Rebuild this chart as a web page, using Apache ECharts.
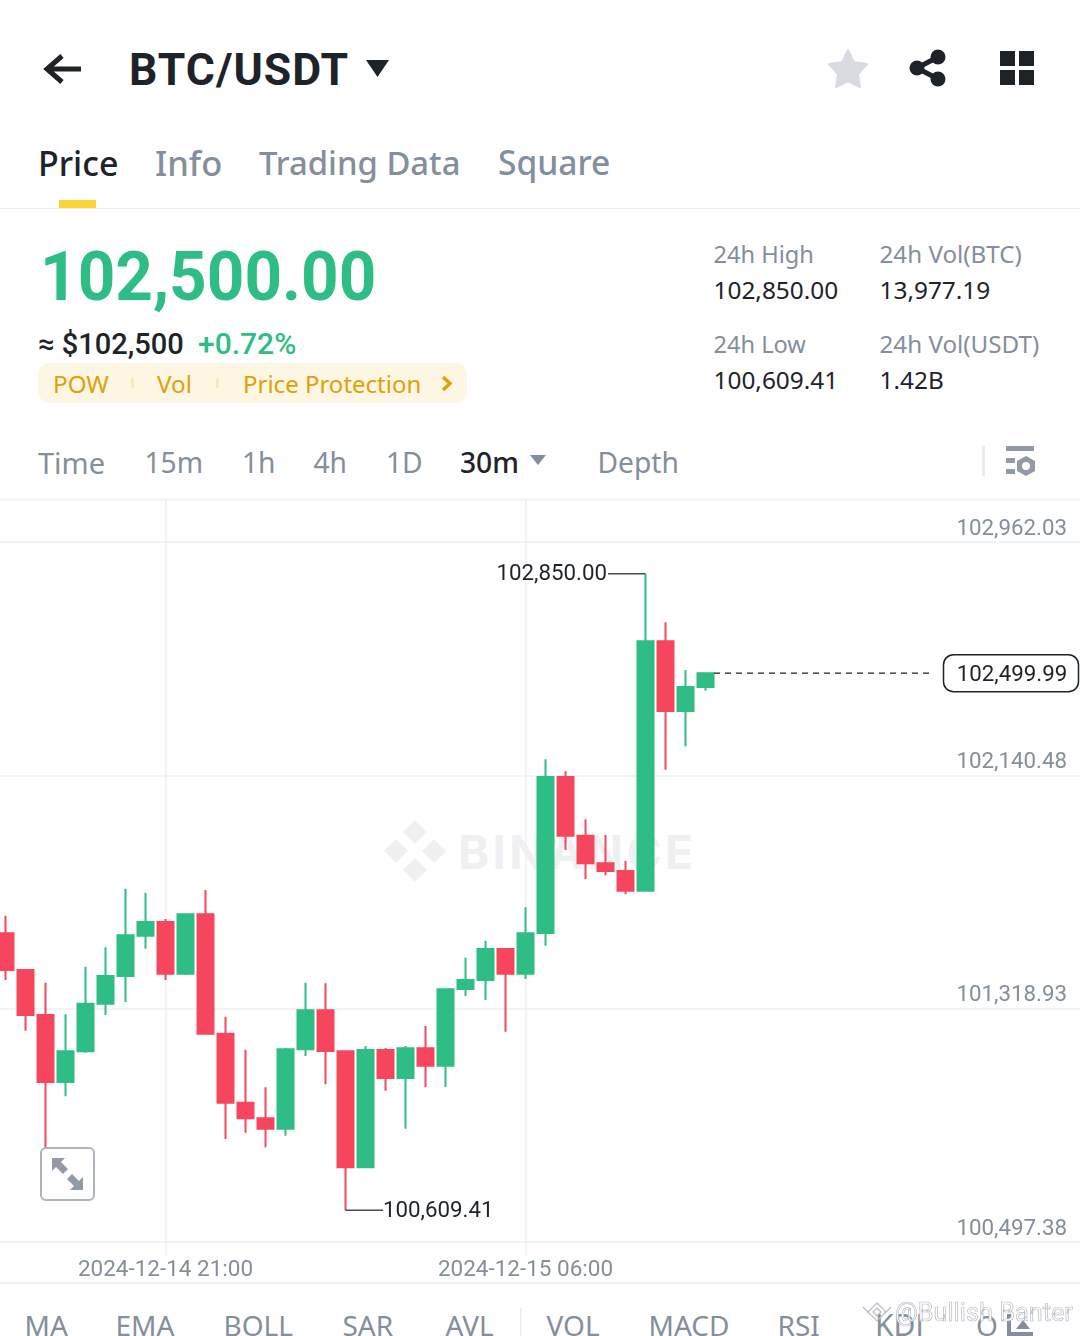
<!DOCTYPE html>
<html>
<head>
<meta charset="utf-8">
<script src="https://cdn.jsdelivr.net/npm/echarts@6/dist/echarts.min.js"></script>
<style>
html,body{margin:0;padding:0;background:#fff;overflow:hidden}
#page{position:relative;width:1080px;height:1336px;overflow:hidden;font-family:"Noto Sans",sans-serif;color:#1E2329}
#main{position:absolute;left:0;top:0;width:1080px;height:1336px;z-index:1}
.t{position:absolute;white-space:nowrap;line-height:1;transform:translateY(-50%)}
.g{color:#848E9C}
.y{color:#E0A106}
.s{font-size:24.2px}
.v{font-size:24.4px}
.m{font-size:28.2px}
.b{font-size:28px}
svg{position:absolute;left:0;top:0;overflow:visible}
#top{z-index:2}
</style>
</head>
<body>
<div id="page">
  <!-- back layer: page chrome and the faint logo -->
  <svg width="1080" height="1336">
    <path d="M46 69H81M62 56L47 69L62 82" fill="none" stroke="#1E2329" stroke-width="5"/>
    <path d="M366 60H389L377.5 77Z" fill="#1E2329"/>
    <path d="M848 50L854 62L867 64L858 74L860 87L848 81L836 87L838 74L829 64L842 62Z" fill="#D8DBE0" stroke="#D8DBE0" stroke-width="2" stroke-linejoin="round"/>
    <path d="M938 57L917 68L938 79" fill="none" stroke="#1E2329" stroke-width="5"/>
    <circle cx="917" cy="68" r="7.5" fill="#1E2329"/><circle cx="938" cy="57" r="7.5" fill="#1E2329"/><circle cx="938" cy="79" r="7.5" fill="#1E2329"/>
    <path d="M1000 51h15v15h-15zM1019 51h15v15h-15zM1000 70h15v15h-15zM1019 70h15v15h-15z" fill="#1E2329"/>
    <rect x="59" y="200" width="37" height="8" fill="#FCD535"/>
    <rect x="0" y="208" width="1080" height="1" fill="#EAECEF"/>
    <rect x="38" y="363" width="429" height="40" rx="12" fill="#FDF6E3"/>
    <rect x="131" y="378" width="3" height="10" fill="#F8E8BE"/>
    <rect x="216" y="378" width="3" height="10" fill="#F8E8BE"/>
    <path d="M443 377L450 383.5L443 390" fill="none" stroke="#E0A106" stroke-width="3.5"/>
    <path d="M530 455H546L538 465Z" fill="#848E9C"/>
    <rect x="982" y="446" width="3" height="30" fill="#EAECEF"/>
    <path d="M1006 446h28v5h-28zM1006 458h9v5h-9zM1006 469h9v5h-9z" fill="#929AA5"/>
    <path d="M1026 456L1035 461V471L1026 476L1017 471V461Z" fill="#929AA5"/>
    <circle cx="1026" cy="466" r="4" fill="#fff"/>
    <rect x="0" y="498" width="1080" height="3" fill="#F5F5F5"/>
    <rect x="0" y="1282" width="1080" height="2" fill="#EEF0F2"/>
    <rect x="520" y="1308" width="1.5" height="28" fill="#EAECEF"/>
    <path d="M1009 1314V1334H1033" fill="none" stroke="#848E9C" stroke-width="4"/>
    <path d="M1016 1329L1023 1320L1030 1329Z" fill="#848E9C"/>
    <g fill="#EEF0F2">
      <path d="M415 820L427 832L415 844L403 832Z"/>
      <path d="M415 858L427 870L415 882L403 870Z"/>
      <path d="M396 839L408 851L396 863L384 851Z"/>
      <path d="M434 839L446 851L434 863L422 851Z"/>
    </g>
    <path d="M415 844L422 851L415 858L408 851Z" fill="#fff"/>
  </svg>
  <div class="t" style="left:458px;top:851px;font:700 47px Inter,sans-serif;color:#EEF0F2;letter-spacing:3.5px">BINANCE</div>

  <div class="t" style="left:129px;top:70px;font-size:44.5px;font-weight:700;font-family:Roboto;letter-spacing:1px">BTC/USDT</div>
  <div class="t" style="left:38px;top:163px;font-size:34px;font-weight:500">Price</div>
  <div class="t g" style="left:155px;top:163px;font-size:34.5px;font-weight:500">Info</div>
  <div class="t g" style="left:259px;top:163px;font-size:32.8px;font-weight:500">Trading Data</div>
  <div class="t g" style="left:498px;top:163px;font-size:33.6px;font-weight:500">Square</div>

  <div class="t" style="left:40px;top:277px;font-size:68px;font-weight:700;font-family:Roboto;color:#2EBD85;transform:translateY(-50%) scaleX(.965);transform-origin:left center">102,500.00</div>
  <div class="t" style="left:38px;top:344px;font-size:29px;font-weight:500;font-family:Roboto">≈ $102,500</div>
  <div class="t" style="left:198px;top:344px;font-size:30px;font-weight:500;font-family:Roboto;color:#2EBD85">+0.72%</div>
  <div class="t y" style="left:53px;top:383.5px;font-size:24.2px">POW</div>
  <div class="t y" style="left:157px;top:383.5px;font-size:24.2px">Vol</div>
  <div class="t y" style="left:243px;top:383.5px;font-size:24px">Price Protection</div>

  <div class="t g s" style="left:713.5px;top:255px;font-size:23.6px">24h High</div>
  <div class="t v" style="left:713.5px;top:289.5px">102,850.00</div>
  <div class="t g s" style="left:713.5px;top:345px;font-size:23.6px">24h Low</div>
  <div class="t v" style="left:713.5px;top:379.5px">100,609.41</div>
  <div class="t g s" style="left:879.5px;top:254px">24h Vol(BTC)</div>
  <div class="t v" style="left:879.5px;top:289.5px">13,977.19</div>
  <div class="t g s" style="left:879.5px;top:344px">24h Vol(USDT)</div>
  <div class="t v" style="left:879.5px;top:379.5px">1.42B</div>

  <div class="t g m" style="left:38px;top:462px;font-size:29px">Time</div>
  <div class="t g m" style="left:144.5px;top:462px">15m</div>
  <div class="t g m" style="left:242px;top:462px">1h</div>
  <div class="t g m" style="left:313.5px;top:462px">4h</div>
  <div class="t g m" style="left:386px;top:462px">1D</div>
  <div class="t m" style="left:460px;top:462px;font-weight:500">30m</div>
  <div class="t g m" style="left:597.5px;top:462px">Depth</div>

  <div class="t g b" style="left:24.5px;top:1325px">MA</div>
  <div class="t g b" style="left:115.5px;top:1325px">EMA</div>
  <div class="t g b" style="left:223.5px;top:1325px">BOLL</div>
  <div class="t g b" style="left:342.5px;top:1325px">SAR</div>
  <div class="t g b" style="left:445.5px;top:1325px">AVL</div>
  <div class="t g b" style="left:546.5px;top:1325px">VOL</div>
  <div class="t g b" style="left:648.5px;top:1325px">MACD</div>
  <div class="t g b" style="left:777.5px;top:1325px">RSI</div>
  <div class="t g b" style="left:875px;top:1325px;font-size:30px">KDJ</div>
  <div class="t g b" style="left:976px;top:1325px">O</div>

  <div id="main"></div>

  <!-- on top of the chart: expand button and the repost watermark -->
  <svg id="top" width="1080" height="1336">
    <rect x="41" y="1148" width="53" height="52" rx="5" fill="#fff" stroke="#AEB4BC" stroke-width="2"/>
    <path d="M52 1158H65L61 1162L68 1169L63 1174L56 1167L52 1171Z" fill="#929AA5"/>
    <path d="M83 1190H70L74 1186L67 1179L72 1174L79 1181L83 1177Z" fill="#929AA5"/>
    <g fill="none" stroke="#B7BDC6" stroke-width="1.2">
      <path d="M877 1303L886 1312L877 1321L868 1312Z"/>
      <path d="M877 1308L881 1312L877 1316L873 1312Z"/>
      <path d="M863 1307L869 1313M891 1307L885 1313"/>
    </g>
  </svg>
  <div class="t" style="z-index:2;left:895px;top:1313px;font-size:25.3px;font-family:Roboto;color:#fff;-webkit-text-stroke:0.7px #B7BDC6">@Bullish Banter</div>
</div>

<script>
var times = ['2024-12-14 17:00','2024-12-14 17:30','2024-12-14 18:00','2024-12-14 18:30','2024-12-14 19:00','2024-12-14 19:30',
  '2024-12-14 20:00','2024-12-14 20:30','2024-12-14 21:00','2024-12-14 21:30','2024-12-14 22:00','2024-12-14 22:30',
  '2024-12-14 23:00','2024-12-14 23:30','2024-12-15 00:00','2024-12-15 00:30','2024-12-15 01:00','2024-12-15 01:30',
  '2024-12-15 02:00','2024-12-15 02:30','2024-12-15 03:00','2024-12-15 03:30','2024-12-15 04:00','2024-12-15 04:30',
  '2024-12-15 05:00','2024-12-15 05:30','2024-12-15 06:00','2024-12-15 06:30','2024-12-15 07:00','2024-12-15 07:30',
  '2024-12-15 08:00','2024-12-15 08:30','2024-12-15 09:00','2024-12-15 09:30','2024-12-15 10:00','2024-12-15 10:30'];
var opens = [101584.3,101455.1,101296.6,101060.7,101168.8,101336.4,101433.9,101575.8,101624.0,101442.0,101651.2,101230.8,
  100987.8,100932.9,100896.3,101175.8,101313.1,101168.8,100760.3,101173.4,101074.8,101179.3,101118.1,101388.1,
  101419.9,101529.0,101442.0,101585.3,102134.6,101927.9,101830.7,101803.6,101734.3,102612.4,102367.0,102451.5];
var closes = [101455.1,101296.6,101060.7,101168.8,101336.4,101433.9,101577.2,101624.0,101442.0,101651.2,101230.8,100987.8,
  100932.9,100896.3,101175.8,101313.1,101169.9,100760.3,101173.4,101074.8,101179.3,101118.1,101387.1,101419.9,
  101529.0,101442.0,101584.3,102134.6,101927.9,101830.7,101803.6,101734.3,102612.4,102367.0,102451.5,102499.99];
var lows = [101419.9,101241.4,100821.3,101010.3,101163.9,101296.6,101342.4,101530.1,101419.9,101437.4,101230.8,100860.0,
  100882.2,100830.8,100871.6,101152.2,101052.6,100609.41,100760.3,101030.1,100896.3,101043.1,101043.1,101363.5,
  101349.4,101237.8,101423.4,101540.6,101877.6,101775.4,101788.5,101721.6,101734.3,102160.3,102242.7,102438.4];
var highs = [101646.3,101455.1,101410.4,101299.1,101466.7,101535.0,101741.3,101727.2,101634.6,101651.2,101736.7,101290.6,
  101174.4,101042.0,101180.4,101410.4,101408.2,101168.8,101187.5,101180.4,101187.5,101257.9,101387.1,101498.4,
  101558.2,101529.0,101675.8,102196.9,102154.6,101985.6,101930.4,101838.8,102850.0,102679.3,102511.3,102499.99];
var priceTicks = [100497.38,101318.93,102140.48,102962.03];
var timeTicks = ['2024-12-14 21:00','2024-12-15 06:00'];
var highPoint = [32,102850.00];
var lowPoint = [17,100609.41];
var lastPrice = 102499.99;
var emptySlots = 19;

var up = '#2EBD85', down = '#F6465D', grey = '#848E9C', ink = '#1E2329', line = '#EEF0F2';
var money = function(v){
  return v.toLocaleString('en-US',{minimumFractionDigits:2,maximumFractionDigits:2});
};

var categories = times.slice();
for(var i=0;i<emptySlots;i++){ categories.push('later '+i); }
var candles = [];
for(var j=0;j<times.length;j++){
  candles.push([opens[j],closes[j],lows[j],highs[j]]);
}

var myChart = echarts.init(document.getElementById('main'));
var option = {
  animation:false,
  grid:{left:-4.5,top:500,width:1100,height:755,outerBoundsMode:'none'},
  xAxis:{
    type:'category',
    data:categories,
    boundaryGap:true,
    axisLine:{show:false},
    axisTick:{show:false,alignWithLabel:true,customValues:timeTicks},
    splitLine:{show:true,alignWithLabel:true,lineStyle:{color:line,width:1.5}},
    axisLabel:{customValues:timeTicks,margin:4,color:grey,fontSize:22.5,fontFamily:'Roboto'}
  },
  yAxis:{
    type:'value',
    position:'right',
    scale:true,
    min:100451.6,
    max:103109.9,
    axisLine:{show:false},
    axisTick:{show:false,customValues:priceTicks},
    splitLine:{show:true,lineStyle:{color:line,width:1.5}},
    axisLabel:{
      customValues:priceTicks,
      inside:true,
      margin:28.5,
      verticalAlign:'bottom',
      padding:[0,0,2,0],
      color:grey,
      fontSize:22.3,
      fontFamily:'Roboto',
      formatter:money
    }
  },
  series:[{
    type:'candlestick',
    data:candles,
    barWidth:16,
    itemStyle:{color:up,color0:down,borderColor:up,borderColor0:down,borderWidth:2}
  }]
};
myChart.setOption(option);

// callouts and the last price tag follow the value scale
var hi = myChart.convertToPixel({seriesIndex:0},highPoint);
var lo = myChart.convertToPixel({seriesIndex:0},lowPoint);
var lastY = myChart.convertToPixel({yAxisIndex:0},lastPrice);
var callFont = '22.3px Roboto';
myChart.setOption({
  graphic:[
    {type:'polyline',z:100,shape:{points:[[hi[0],hi[1]],[608,hi[1]]]},style:{stroke:'#474D57',lineWidth:1.5,fill:null}},
    {type:'text',z:100,x:607,y:hi[1]+1,style:{text:money(highPoint[1]),font:callFont,fill:ink,textAlign:'right',textVerticalAlign:'middle'}},
    {type:'polyline',z:100,shape:{points:[[lo[0],lo[1]],[383,lo[1]]]},style:{stroke:'#474D57',lineWidth:1.5,fill:null}},
    {type:'text',z:100,x:383,y:lo[1]+1,style:{text:money(lowPoint[1]),font:callFont,fill:ink,textAlign:'left',textVerticalAlign:'middle'}},
    {type:'line',z:100,shape:{x1:714,y1:lastY,x2:930,y2:lastY},style:{stroke:ink,lineWidth:1.2,lineDash:[6,5]}},
    {type:'rect',z:100,shape:{x:943.5,y:lastY-18.5,width:135,height:37,r:10},style:{stroke:ink,lineWidth:1.5,fill:'#fff'}},
    {type:'text',z:101,x:1012,y:lastY+2,style:{text:money(lastPrice),font:callFont,fill:ink,textAlign:'center',textVerticalAlign:'middle'}}
  ]
});
</script>
</body>
</html>
